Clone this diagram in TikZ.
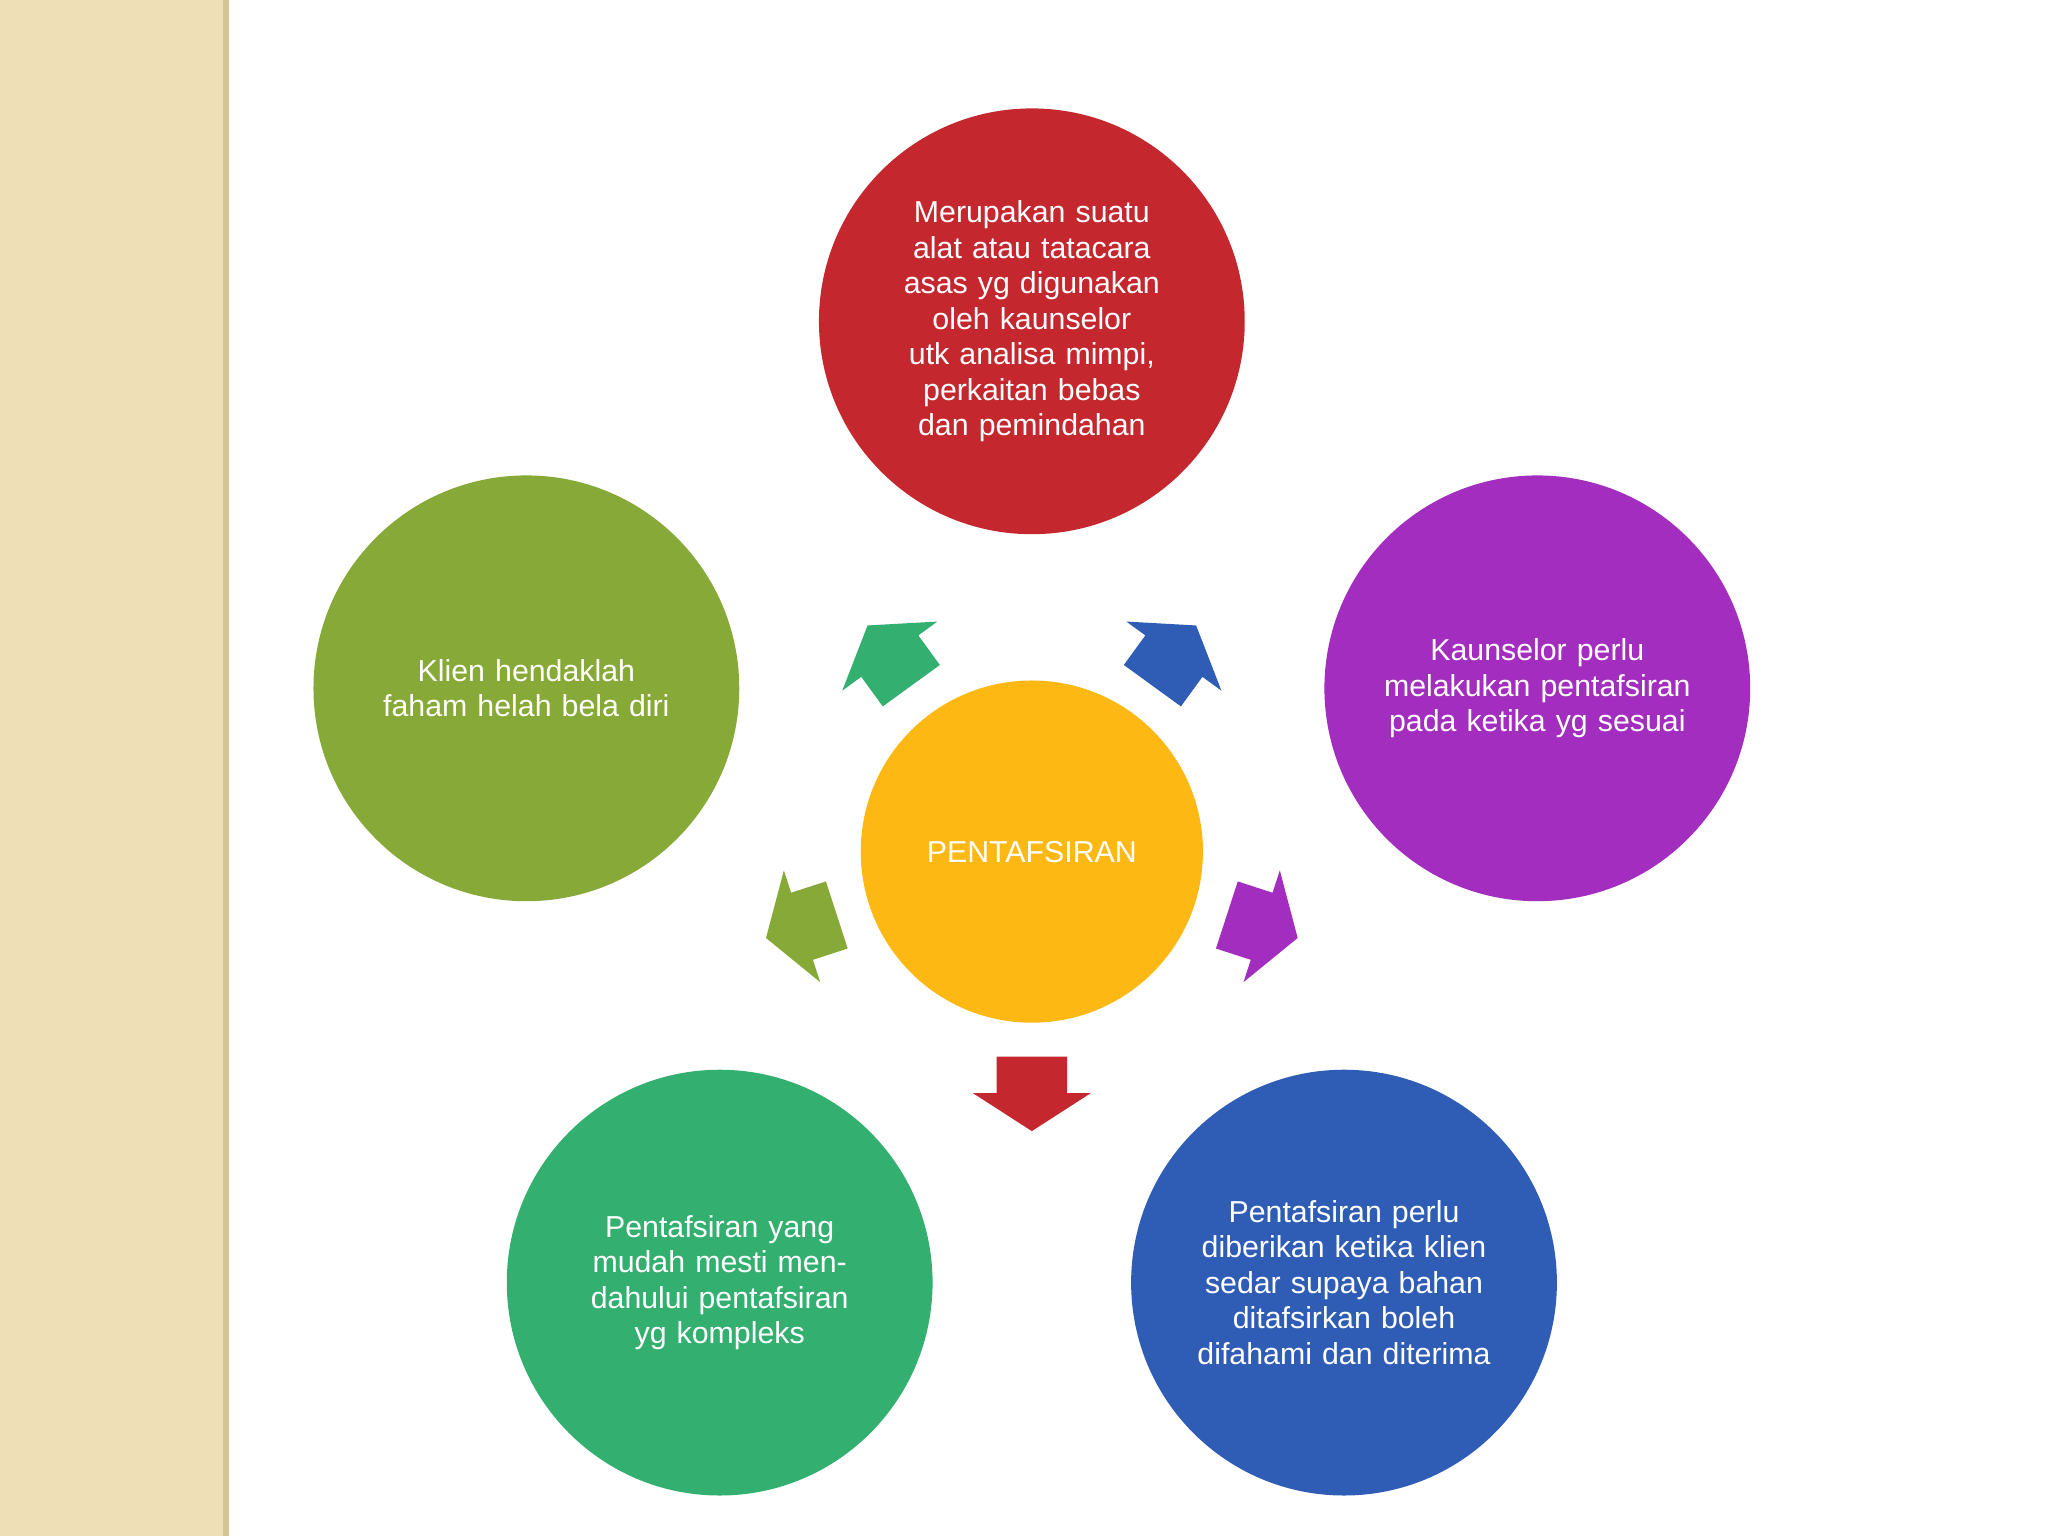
\documentclass[tikz,border=0pt]{standalone}
\usepackage{fontspec}
\setmainfont{Liberation Sans}
\begin{document}
\begin{tikzpicture}[x=0.5pt,y=-0.5pt,
  bub/.style={circle,draw=none,minimum size=163pt,inner sep=0pt,text=white,
    align=center,text width=118pt,font=\fontsize{11.6}{13.6}\selectfont},
  arr/.style={fill=#1,draw=none}]
\useasboundingbox (0,0) rectangle (1568,1176);
\fill[white] (0,0) rectangle (1568,1176);
\fill[color={rgb,255:red,238;green,223;blue,182}] (0,0) rectangle (173,1176);
\draw[color={rgb,255:red,214;green,196;blue,150},line width=2pt] (173,0) -- (173,1176);
\definecolor{cr}{RGB}{196,40,46}
\definecolor{cp}{RGB}{162,45,190}
\definecolor{cg}{RGB}{135,169,55}
\definecolor{cgb}{RGB}{51,175,111}
\definecolor{cb}{RGB}{47,93,181}
\definecolor{cy}{RGB}{253,184,19}
\node[bub,fill=cy,minimum size=131pt] (c) at (790,652) {PENTAFSIRAN};
\node[bub,fill=cr] (t) at (790,246) {Merupakan suatu alat atau tatacara asas yg digunakan oleh kaunselor utk analisa mimpi, perkaitan bebas dan pemindahan};
\node[bub,fill=cp] (r) at (1177,527) {Kaunselor perlu melakukan pentafsiran pada ketika yg sesuai};
\node[bub,fill=cg] (l) at (403,527) {Klien hendaklah faham helah bela diri};
\node[bub,fill=cgb] (bl) at (551,982) {Pentafsiran yang mudah mesti mendahului pentafsiran yg kompleks};
\node[bub,fill=cb] (br) at (1029,982) {Pentafsiran perlu diberikan ketika klien sedar supaya bahan ditafsirkan boleh difahami dan diterima};
\foreach \a/\col in {90/cr,18/cp,162/cg,-54/cb,-126/cgb}{
  \fill[\col,shift={(790,652)},rotate=-\a,y=0.5pt]
   (157,-27) -- (185,-27) -- (185,-45) -- (214,0) -- (185,45) -- (185,27) -- (157,27) -- cycle;
}
\end{tikzpicture}
\end{document}
